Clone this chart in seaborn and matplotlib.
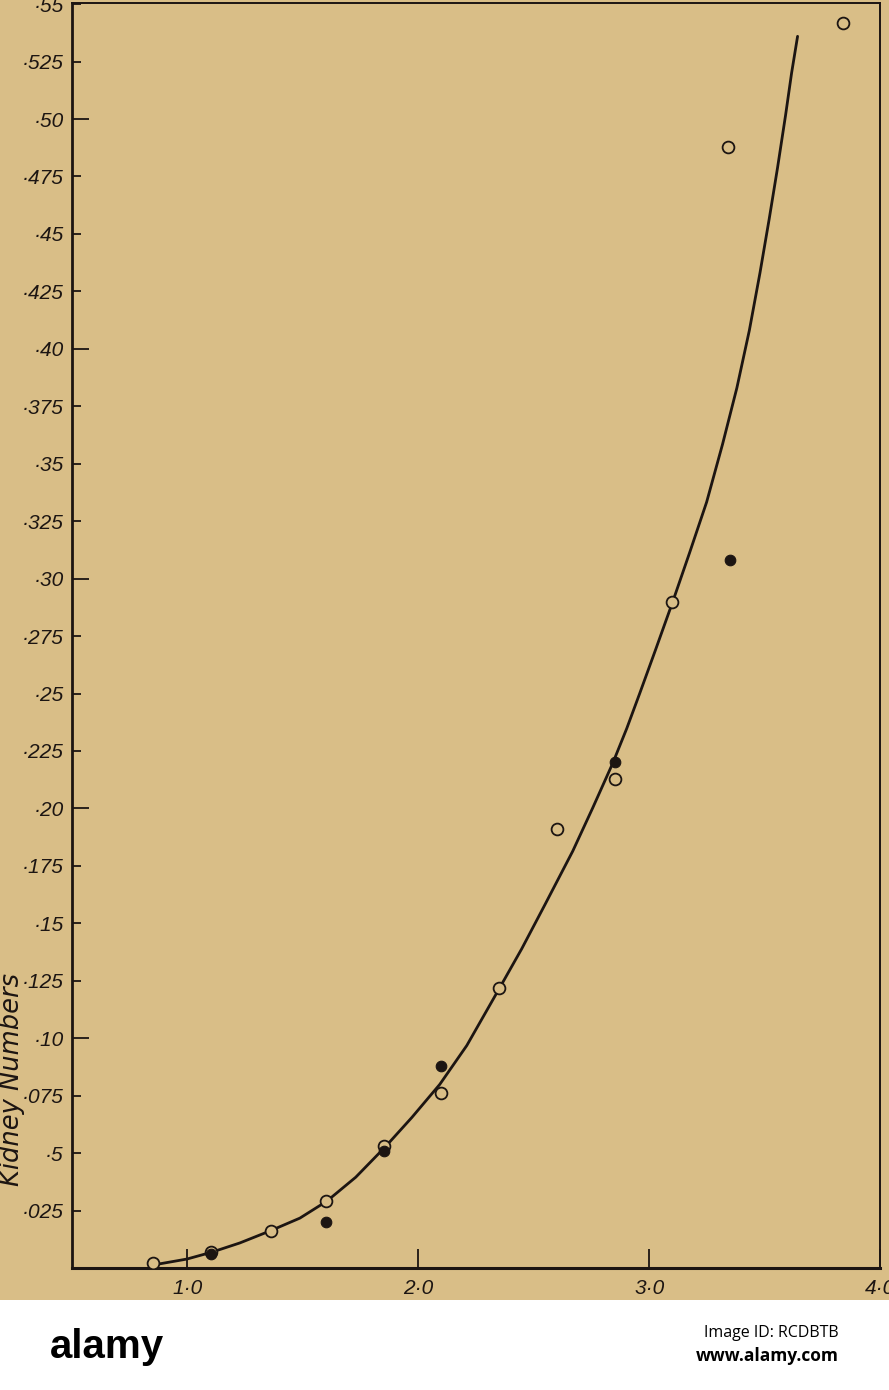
import matplotlib
matplotlib.use("Agg")
import matplotlib.pyplot as plt
import seaborn as sns
import pandas as pd
from matplotlib.patches import Rectangle
from matplotlib.ticker import FixedLocator, FixedFormatter

# ---------------- data ----------------
open_x = [0.85, 1.10, 1.36, 1.60, 1.85, 2.10, 2.35, 2.60, 2.85, 3.10, 3.34, 3.84]
open_y = [0.002, 0.007, 0.016, 0.029, 0.053, 0.076, 0.122, 0.191, 0.213, 0.290, 0.488, 0.542]
filled_x = [1.10, 1.60, 1.85, 2.10, 2.85, 3.35]
filled_y = [0.006, 0.020, 0.051, 0.088, 0.220, 0.308]

# hand-drawn fitted curve
curve_x = [0.851, 0.998, 1.106, 1.227, 1.357, 1.487, 1.604, 1.729, 1.855, 1.972,
           2.093, 2.210, 2.353, 2.448, 2.548, 2.669, 2.755, 2.842, 2.903, 2.959,
           3.028, 3.102, 3.175, 3.249, 3.318, 3.380, 3.434, 3.480, 3.520, 3.556,
           3.591, 3.617, 3.643]
curve_y = [0.0013, 0.0039, 0.0069, 0.0109, 0.0161, 0.0217, 0.0291, 0.0395, 0.0525, 0.0655,
           0.0799, 0.0968, 0.1220, 0.1389, 0.1580, 0.1814, 0.2001, 0.2196, 0.2348, 0.2500,
           0.2691, 0.2899, 0.3112, 0.3333, 0.3585, 0.3830, 0.4080, 0.4330, 0.4565, 0.4787,
           0.5017, 0.5200, 0.5360]

x_ticks = [1.0, 2.0, 3.0, 4.0]
x_labels = ["1·0", "2·0", "3·0", "4·0"]
y_major = [0.10, 0.20, 0.30, 0.40, 0.50]
y_major_labels = ["·10", "·20", "·30", "·40", "·50"]
y_minor = [0.025, 0.05, 0.075, 0.125, 0.15, 0.175, 0.225, 0.25, 0.275,
           0.325, 0.35, 0.375, 0.425, 0.45, 0.475, 0.525, 0.55]
y_minor_labels = ["·025", "·5", "·075", "·125", "·15", "·175", "·225", "·25", "·275",
                  "·325", "·35", "·375", "·425", "·45", "·475", "·525", "·55"]
y_label = "Kidney Numbers"

# ---------------- style ----------------
BG = "#D9BE87"
INK = "#1c1512"
sns.set_theme(style="white")
plt.rcParams["font.family"] = ["Liberation Sans", "DejaVu Sans"]

W, H = 889, 1390
fig = plt.figure(figsize=(W / 100, H / 100), dpi=100, facecolor=BG)
ax = fig.add_axes([72 / W, 122 / H, (880 - 72) / W, (1268 - 3) / H])
ax.set_facecolor(BG)

curve_df = pd.DataFrame({"x": curve_x, "y": curve_y})
open_df = pd.DataFrame({"x": open_x, "y": open_y})
filled_df = pd.DataFrame({"x": filled_x, "y": filled_y})

sns.lineplot(data=curve_df, x="x", y="y", ax=ax, color=INK, linewidth=2.0,
             sort=False, estimator=None, zorder=2)
for ln in ax.get_lines():
    ln.set_solid_joinstyle("round")
sns.scatterplot(data=open_df, x="x", y="y", ax=ax, s=72, facecolor=BG,
                edgecolor=INK, linewidth=1.3, zorder=3)
sns.scatterplot(data=filled_df, x="x", y="y", ax=ax, s=58, color=INK,
                edgecolor=INK, linewidth=0.8, zorder=4)

ax.set_xlim(0.5, 4.0)
ax.set_ylim(0, 0.5505)
ax.set_xlabel("")
ax.set_ylabel("")

for side, lw in [("left", 2.0), ("bottom", 2.2), ("right", 1.4), ("top", 1.4)]:
    ax.spines[side].set_visible(True)
    ax.spines[side].set_color(INK)
    ax.spines[side].set_linewidth(lw)

ax.set_xticks(x_ticks)
ax.set_xticklabels(x_labels)
ax.yaxis.set_major_locator(FixedLocator(y_major))
ax.yaxis.set_major_formatter(FixedFormatter(y_major_labels))
ax.yaxis.set_minor_locator(FixedLocator(y_minor))
ax.yaxis.set_minor_formatter(FixedFormatter(y_minor_labels))

ax.tick_params(axis="x", which="major", direction="in", length=14, width=1.3,
               color=INK, pad=8, labelsize=15, labelcolor=INK, bottom=True, top=False)
ax.tick_params(axis="y", which="major", direction="in", length=12.5, width=1.3,
               color=INK, pad=6, labelsize=15, labelcolor=INK, left=True, right=False)
ax.tick_params(axis="y", which="minor", direction="in", length=6.5, width=1.3,
               color=INK, pad=6, labelsize=15, labelcolor=INK, left=True, right=False)
for t in ax.get_xticklabels() + ax.get_yticklabels() + ax.get_yticklabels(minor=True):
    t.set_fontstyle("italic")
    t.set_family("Liberation Sans")

fig.text(12 / W, (H - 1080) / H, y_label, rotation=90, ha="center", va="center",
         fontsize=18.5, fontstyle="italic", family="DejaVu Sans", color=INK)

# ---------------- footer strip ----------------
fig.patches.append(Rectangle((0, 0), 1, 90 / H, transform=fig.transFigure,
                             facecolor="white", edgecolor="none", zorder=10))
fig.text(50 / W, (H - 1347) / H, "alamy", ha="left", va="center", fontsize=29,
         fontweight="bold", family="Liberation Sans", color="black", zorder=11)
fig.text(839 / W, (H - 1333) / H, "Image ID: RCDBTB", ha="right", va="center",
         fontsize=11.5, family="Open Sans", color="black", zorder=11)
fig.text(839 / W, (H - 1356) / H, "www.alamy.com", ha="right", va="center",
         fontsize=12.5, fontweight="bold", family="Open Sans", color="black", zorder=11)

fig.savefig("out.png", dpi=100, facecolor=BG)
